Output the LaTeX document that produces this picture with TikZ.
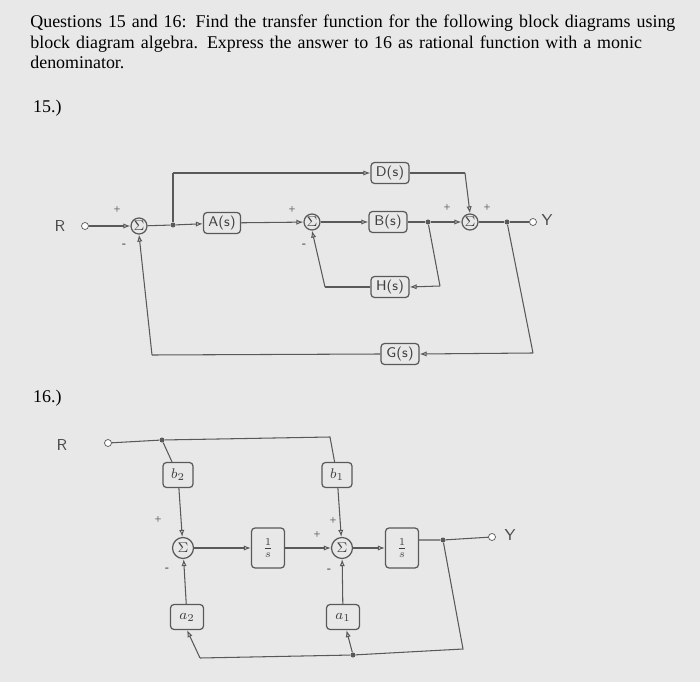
\documentclass[tikz,border=0pt]{standalone}
\usepackage{fontspec}
\setmainfont{Liberation Serif}
\usetikzlibrary{arrows.meta}
\begin{document}
\begin{tikzpicture}[x=0.02cm,y=-0.02cm,
  ln/.style={draw=black!65,line width=0.6pt},
  ar/.style={ln,-{Latex[length=4pt,width=3pt,open]}},
  blk/.style={draw=black!65,line width=0.7pt,rounded corners=2pt,minimum height=0.42cm,inner sep=1.5pt,font=\sffamily\footnotesize,text=black!75},
  sum/.style={draw=black!65,line width=0.7pt,circle,minimum size=0.32cm,inner sep=0pt,font=\footnotesize,text=black!75},
  term/.style={draw=black!65,circle,minimum size=0.14cm,inner sep=0pt,fill=white},
  dot/.style={circle,fill=black!65,minimum size=0.1cm,inner sep=0pt},
  sg/.style={font=\scriptsize,text=black!70},
  hw/.style={font=\sffamily\small,text=black!70}]
\fill[gray!18] (0,0) rectangle (700,682);
\useasboundingbox (0,0) rectangle (700,682);
\node[anchor=north west,align=left,text width=13.4cm,font=\fontsize{10.2}{11.6}\selectfont,inner sep=0pt] (hdr) at (30,15)
 {Questions 15 and 16: Find the transfer function for the following block diagrams using block diagram algebra. Express the answer to 16 as rational function with a monic\\ denominator.};
\node[anchor=west,font=\fontsize{10.2}{12}\selectfont] (q15) at (27,108) {15.)};
\node[anchor=west,font=\fontsize{10.2}{12}\selectfont] (q16) at (27,398) {16.)};
% ---- 15
\node[hw] (R1) at (60,226) {R};
\node[term] (r1) at (85,226) {};
\node[sum] (s1) at (139,226) {$\Sigma$};
\node[dot] (d1) at (173,225) {};
\node[blk,minimum width=0.74cm] (A) at (222,223) {A(s)};
\node[sum] (s2) at (312,222) {$\Sigma$};
\node[blk,minimum width=0.76cm] (B) at (388,222) {B(s)};
\node[dot] (d2) at (428,222) {};
\node[sum] (s3) at (470,222) {$\Sigma$};
\node[dot] (d3) at (507,222) {};
\node[term] (y1) at (533,222) {};
\node[hw] (Y1) at (547,220) {Y};
\node[blk,minimum width=0.76cm] (D) at (390,173) {D(s)};
\node[blk,minimum width=0.76cm] (H) at (390,287) {H(s)};
\node[blk,minimum width=0.76cm] (G) at (400,354) {G(s)};
\coordinate (t1) at (173,173);
\coordinate (t2) at (465,173);
\coordinate (h1) at (440,286);
\coordinate (h2) at (325,287);
\coordinate (g1) at (533,353);
\coordinate (g2) at (152,355);
\draw[ar] (r1) -- (s1);
\draw[ln] (s1) -- (d1);
\draw[ar] (d1) -- (A);
\draw[ar] (A) -- (s2);
\draw[ar] (s2) -- (B);
\draw[ln] (B) -- (d2);
\draw[ar] (d2) -- (s3);
\draw[ln] (s3) -- (d3);
\draw[ln] (d3) -- (y1);
\draw[ln] (d1) -- (t1);
\draw[ar] (t1) -- (D.west);
\draw[ln] (D.east) -- (t2);
\draw[ar] (t2) -- (s3.north);
\draw[ln] (d2) -- (h1);
\draw[ar] (h1) -- (H.east);
\draw[ln] (H.west) -- (h2);
\draw[ar] (h2) -- (s2.south);
\draw[ln] (d3) -- (g1);
\draw[ar] (g1) -- (G.east);
\draw[ln] (G.west) -- (g2);
\draw[ar] (g2) -- (s1.south);
\node[sg] (p1) at (117,210) {+};
\node[sg] (m1) at (124,246) {\textbf{-}};
\node[sg] (p2) at (292,210) {+};
\node[sg] (m2) at (304,246) {\textbf{-}};
\node[sg] (p3) at (447,208) {+};
\node[sg] (p4) at (487,208) {+};
% ---- 16
\node[hw] (R2) at (62,445) {R};
\node[term] (r2) at (108,443) {};
\node[dot] (e1) at (162,440) {};
\coordinate (e2) at (330,437);
\node[blk,minimum width=0.6cm,minimum height=0.5cm] (b2) at (178,475) {$b_2$};
\node[blk,minimum width=0.6cm,minimum height=0.5cm] (b1) at (337,475) {$b_1$};
\node[sum,minimum size=0.42cm] (u1) at (183,548) {$\Sigma$};
\node[sum,minimum size=0.42cm] (u2) at (342,548) {$\Sigma$};
\node[blk,minimum width=0.66cm,minimum height=0.8cm] (i1) at (268,548) {$\frac{1}{s}$};
\node[blk,minimum width=0.66cm,minimum height=0.8cm] (i2) at (402,548) {$\frac{1}{s}$};
\node[dot] (e3) at (443,540) {};
\node[term] (y2) at (492,537) {};
\node[hw] (Y2) at (510,535) {Y};
\node[blk,minimum width=0.66cm,minimum height=0.5cm] (a2) at (187,617) {$a_2$};
\node[blk,minimum width=0.66cm,minimum height=0.5cm] (a1) at (343,617) {$a_1$};
\coordinate (f1) at (463,649);
\node[dot] (e4) at (353,655) {};
\coordinate (f2) at (200,658);
\draw[ln] (r2) -- (e1) -- (e2) -- (b1);
\draw[ln] (e1) -- (b2);
\draw[ar] (b2) -- (u1);
\draw[ar] (b1) -- (u2);
\draw[ar] (u1) -- (i1);
\draw[ar] (i1) -- (u2);
\draw[ar] (u2) -- (i2);
\draw[ln] (i2.east|-e3) -- (e3) -- (y2);
\draw[ln] (e3) -- (f1) -- (e4) -- (f2);
\draw[ar] (f2) -- (a2.south);
\draw[ar] (e4) -- (a1);
\draw[ar] (a2) -- (u1);
\draw[ar] (a1) -- (u2);
\node[sg] (q1) at (158,520) {+};
\node[sg] (n1) at (167,570) {\textbf{-}};
\node[sg] (q2) at (317,535) {+};
\node[sg] (q3) at (333,521) {+};
\node[sg] (n2) at (329,571) {\textbf{-}};
\end{tikzpicture}
\end{document}
